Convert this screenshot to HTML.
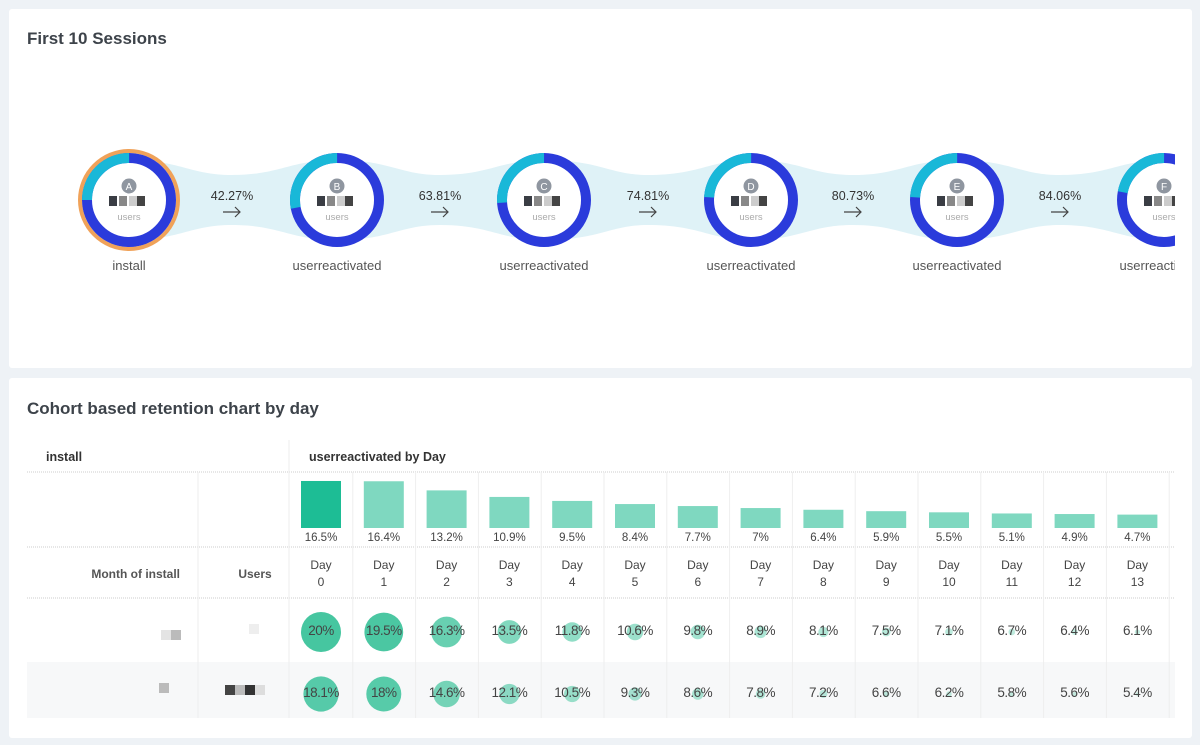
<!DOCTYPE html>
<html><head><meta charset="utf-8"><style>
body{margin:0;width:1200px;height:745px;background:#eef2f6;font-family:"Liberation Sans",sans-serif;overflow:hidden;position:relative}
.card{position:absolute;left:9px;width:1183px;background:#fff;border-radius:3px}
.t{position:absolute;font-size:17px;color:#3d434a;font-weight:bold}
</style></head><body>
<div class="card" style="top:9px;height:359px"></div>
<div class="card" style="top:378px;height:360px"></div>
<div class="t" style="left:27px;top:29px">First 10 Sessions</div>
<div class="t" style="left:27px;top:399px">Cohort based retention chart by day</div>
<svg width="1200" height="745" style="position:absolute;left:0;top:0" font-family="Liberation Sans, sans-serif">
<defs><clipPath id="c"><rect x="0" y="0" width="1175" height="745"/></clipPath></defs>
<g clip-path="url(#c)">
<path d="M129 160 C180 160,190 175,232 175 C280 175,290 160,337 160 C390 160,400 175,440 175 C490 175,500 160,544 160 C600 160,610 175,648 175 C700 175,710 160,751 160 C800 160,810 175,853 175 C900 175,910 160,957 160 C1010 160,1020 175,1060 175 C1110 175,1120 160,1164 160 L1164 240 C1120 240,1110 225,1060 225 C1020 225,1010 240,957 240 C910 240,900 225,853 225 C810 225,800 240,751 240 C710 240,700 225,648 225 C610 225,600 240,544 240 C500 240,490 225,440 225 C400 225,390 240,337 240 C290 240,280 225,232 225 C190 225,180 240,129 240Z" fill="#dff2f7"/>
<circle cx="129" cy="200" r="51" fill="#f0a259"/>
</g>
<g font-size="12.5" fill="#333" text-anchor="middle">
<text x="232" y="200">42.27%</text><text x="440" y="200">63.81%</text><text x="648" y="200">74.81%</text><text x="853" y="200">80.73%</text><text x="1060" y="200">84.06%</text>
</g>
<g stroke="#444" stroke-width="1.2" fill="none">
<path d="M223 212h17m-5-5l5 5-5 5"/><path d="M431 212h17m-5-5l5 5-5 5"/><path d="M639 212h17m-5-5l5 5-5 5"/><path d="M844 212h17m-5-5l5 5-5 5"/><path d="M1051 212h17m-5-5l5 5-5 5"/>
</g>
</svg>
<div id="f"></div>
<script>
var xs=[129,337,544,751,957,1164],L="ABCDEF",names=["install","userreactivated","userreactivated","userreactivated","userreactivated","userreactivated"],cy=[0.25,0.28,0.26,0.24,0.24,0.22];
var s='<svg width="1175" height="745" style="position:absolute;left:0;top:0" font-family="Liberation Sans, sans-serif">';
var C=2*Math.PI*42;
for(var i=0;i<6;i++){var x=xs[i];
s+='<circle cx="'+x+'" cy="200" r="47" fill="#fff"/>';
s+='<circle cx="'+x+'" cy="200" r="42" fill="none" stroke="#2b3bdb" stroke-width="10"/>';
s+='<circle cx="'+x+'" cy="200" r="42" fill="none" stroke="#19b8d8" stroke-width="10" stroke-dasharray="'+(C*cy[i])+' '+C+'" transform="rotate(-'+(90+360*cy[i])+' '+x+' 200)"/>';
s+='<circle cx="'+x+'" cy="186" r="7.5" fill="#8f96a0"/><text x="'+x+'" y="190" font-size="10" fill="#fff" text-anchor="middle">'+L[i]+'</text>';
s+='<rect x="'+(x-20)+'" y="196" width="8" height="10" fill="#3a3d44"/><rect x="'+(x-10)+'" y="196" width="8" height="10" fill="#888"/><rect x="'+x+'" y="196" width="8" height="10" fill="#ccc"/><rect x="'+(x+8)+'" y="196" width="8" height="10" fill="#444"/>';
s+='<text x="'+x+'" y="220" font-size="9.5" fill="#aaa" text-anchor="middle">users</text>';
s+='<text x="'+x+'" y="270" font-size="13" fill="#555" text-anchor="middle">'+names[i]+'</text>';}
s+='<rect x="27" y="662" width="1148" height="56" fill="#f7f8f9"/>';
s+='<text x="46" y="461" font-size="12.5" font-weight="bold" fill="#333">install</text><text x="309" y="461" font-size="12.5" font-weight="bold" fill="#333">userreactivated by Day</text>';
s+='<text x="180" y="578" font-size="12" font-weight="bold" fill="#555" text-anchor="end">Month of install</text><text x="255" y="578" font-size="12" font-weight="bold" fill="#555" text-anchor="middle">Users</text>';
[472,547,598].forEach(function(y){s+='<line x1="27" x2="1175" y1="'+y+'" y2="'+y+'" stroke="#ccc" stroke-dasharray="1 1"/>';});
s+='<line x1="289" x2="289" y1="440" y2="718" stroke="#eee"/><line x1="198" x2="198" y1="472" y2="718" stroke="#eee"/>';
var b=[16.5,16.4,13.2,10.9,9.5,8.4,7.7,7,6.4,5.9,5.5,5.1,4.9,4.7],r1=[20,19.5,16.3,13.5,11.8,10.6,9.8,8.9,8.1,7.5,7.1,6.7,6.4,6.1],r2=[18.1,18,14.6,12.1,10.5,9.3,8.6,7.8,7.2,6.6,6.2,5.8,5.6,5.4];
for(var j=0;j<15;j++){var ex=290+j*62.8;s+='<line x1="'+(ex+62.8)+'" x2="'+(ex+62.8)+'" y1="472" y2="718" stroke="#eee"/>';}
for(var j=0;j<14;j++){var cx=321+j*62.8,h=b[j]*2.85;
s+='<rect x="'+(cx-20)+'" y="'+(528-h)+'" width="40" height="'+h+'" fill="'+(j?'#7fd8c0':'#1dbd95')+'"/>';
s+='<text x="'+cx+'" y="541" font-size="11.5" fill="#444" text-anchor="middle">'+b[j]+'%</text>';
s+='<text x="'+cx+'" y="569" font-size="12" fill="#444" text-anchor="middle">Day</text><text x="'+cx+'" y="586" font-size="12" fill="#444" text-anchor="middle">'+j+'</text>';
[[r1[j],630],[r2[j],692]].forEach(function(p){var rr=p[0];var rad=Math.max(0,(rr-4)*1.25);var op=Math.max(0,Math.min(1,(rr-5)/15));
s+='<circle cx="'+cx+'" cy="'+(p[1]+2)+'" r="'+rad+'" fill="#3cc39b" fill-opacity="'+(0.25+0.7*op)+'"/>';
s+='<text x="'+cx+'" y="'+(p[1]+5)+'" font-size="13.5" fill="#444" text-anchor="middle" letter-spacing="-0.5">'+rr+'%</text>';});}
s+='<rect x="161" y="630" width="10" height="10" fill="#e4e4e4"/><rect x="171" y="630" width="10" height="10" fill="#bbb"/><rect x="249" y="624" width="10" height="10" fill="#eee"/>';
s+='<rect x="159" y="683" width="10" height="10" fill="#bbb"/><rect x="225" y="685" width="10" height="10" fill="#444"/><rect x="235" y="685" width="10" height="10" fill="#bbb"/><rect x="245" y="685" width="10" height="10" fill="#333"/><rect x="255" y="685" width="10" height="10" fill="#ddd"/>';
s+='</svg>';document.getElementById('f').innerHTML=s;
</script>
</body></html>
